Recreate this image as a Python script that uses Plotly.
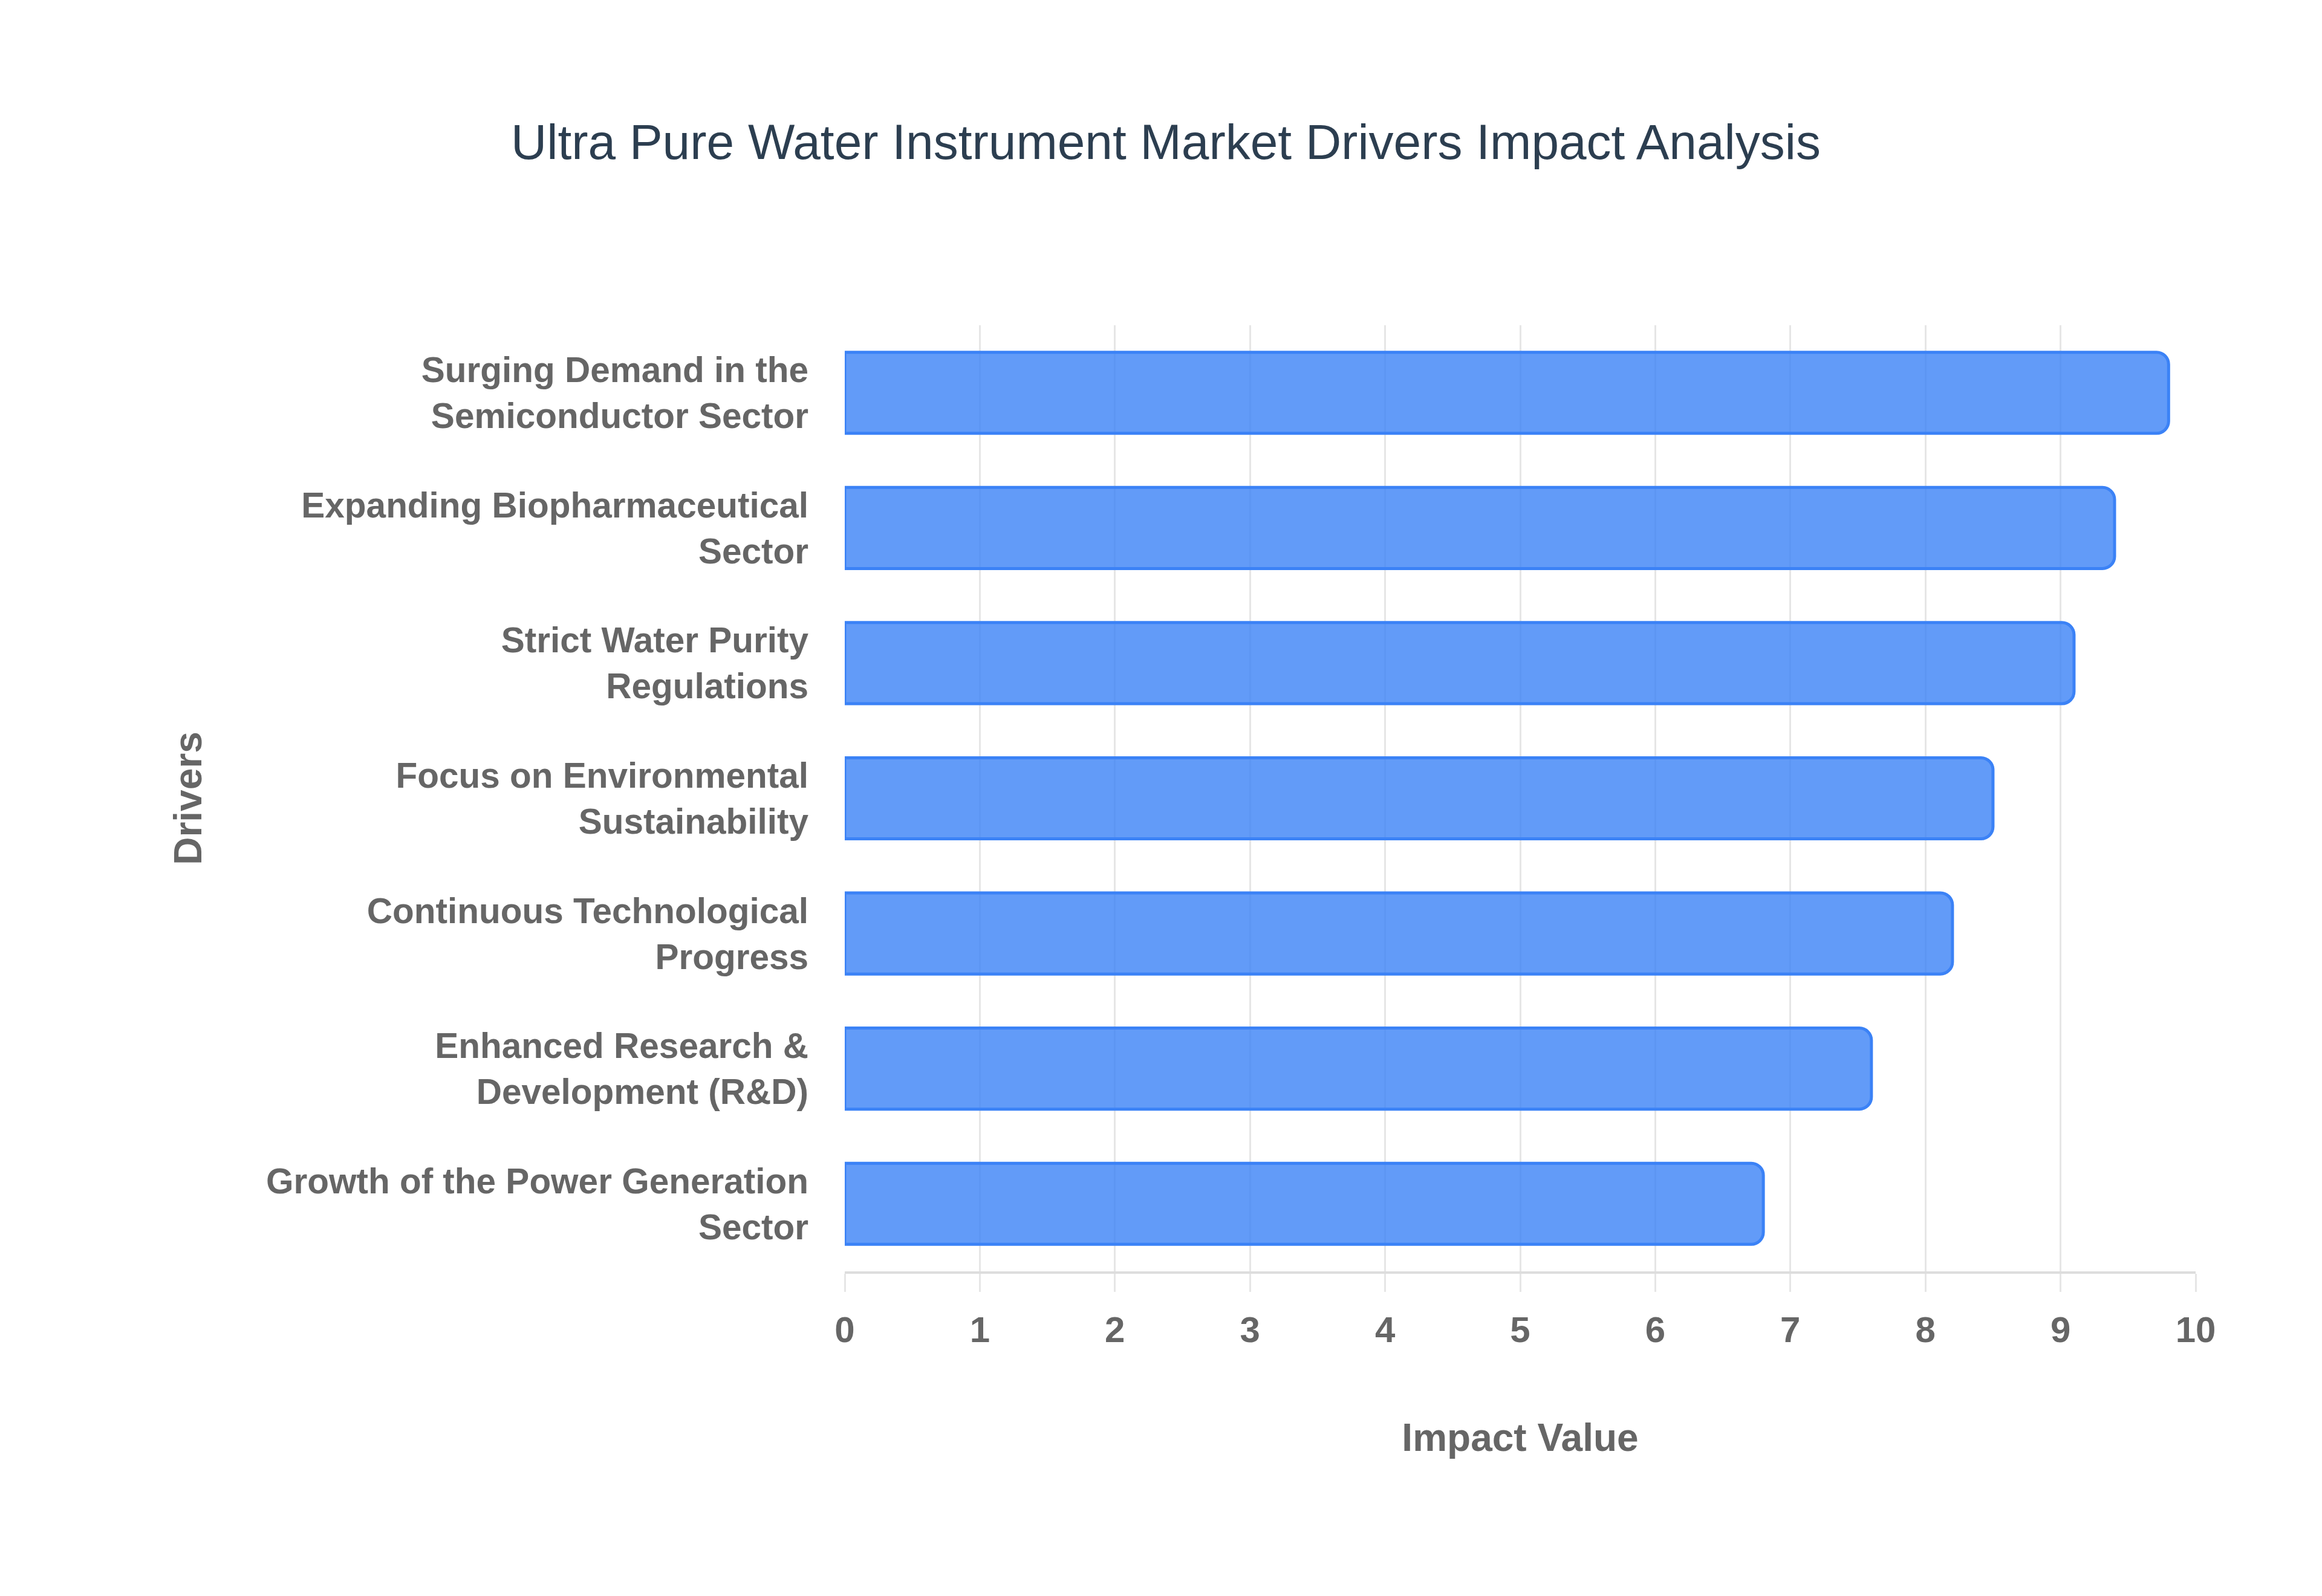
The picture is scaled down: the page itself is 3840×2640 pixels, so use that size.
import plotly.graph_objects as go

# drivers listed bottom -> top (plotly puts first category at the bottom)
drivers = [
    "Growth of the Power Generation<br>Sector",
    "Enhanced Research &<br>Development (R&D)",
    "Continuous Technological<br>Progress",
    "Focus on Environmental<br>Sustainability",
    "Strict Water Purity<br>Regulations",
    "Expanding Biopharmaceutical<br>Sector",
    "Surging Demand in the<br>Semiconductor Sector",
]
impact = [6.8, 7.6, 8.2, 8.5, 9.1, 9.4, 9.8]
x_ticks = list(range(0, 11))

font_family = "Liberation Sans, Arial, sans-serif"
label_grey = "#666666"
grid_grey = "#e6e6e6"

fig = go.Figure()
fig.add_trace(go.Bar(
    y=drivers,
    x=impact,
    orientation="h",
    marker=dict(color="rgba(59,130,246,0.8)",
                line=dict(color="rgb(59,130,246)", width=5),
                cornerradius=20),
    showlegend=False,
))

fig.update_layout(
    width=3840, height=2640,
    paper_bgcolor="white", plot_bgcolor="white",
    margin=dict(l=1389, r=217, t=530, b=545, autoexpand=False),
    bargap=0.4,
    title=dict(text="Ultra Pure Water Instrument Market Drivers Impact Analysis",
               x=0.5, xanchor="center", xref="container",
               y=1 - 226 / 2640, yref="container", yanchor="middle",
               font=dict(family=font_family, size=82, color="#2c3e50")),
)

fig.update_xaxes(
    range=[0, 10], tickvals=x_ticks, ticktext=[str(v) for v in x_ticks],
    showgrid=True, gridcolor=grid_grey, gridwidth=3,
    zeroline=False,
    showline=True, linecolor="#dddddd", linewidth=4,
    ticks="outside", ticklen=30, tickwidth=3, tickcolor=grid_grey,
    ticklabelstandoff=11,
    tickfont=dict(family=font_family, size=60, color=label_grey, weight="bold"),
    title=dict(text="Impact Value", standoff=124,
               font=dict(family=font_family, size=64, color=label_grey, weight="bold")),
    automargin=False,
)
fig.update_yaxes(
    showgrid=False, zeroline=False,
    showline=False,
    ticks="", ticklabelstandoff=59,
    tickfont=dict(family=font_family, size=58.5, color=label_grey, weight="bold"),
    title=dict(text="Drivers", standoff=85,
               font=dict(family=font_family, size=64, color=label_grey, weight="bold")),
    automargin=False,
)

fig.write_html("out.html")
